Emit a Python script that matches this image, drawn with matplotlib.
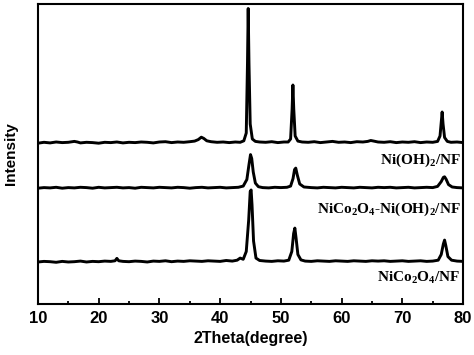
import matplotlib
matplotlib.use("Agg")
import matplotlib.pyplot as plt
from matplotlib.ticker import MultipleLocator

# Ni(OH)2/NF
tth_a = [10, 11, 12, 13, 14, 15, 16, 16.5, 17, 18, 19, 20, 21, 22, 23, 24, 25, 26, 27, 28,
         29, 30, 31, 32, 33, 34, 35, 35.8, 36.4, 36.9, 37.3, 37.8, 38.5, 39.5, 40.5, 41.5,
         42.5, 43.3, 43.9, 44.3, 44.5, 44.62, 44.75, 44.95, 45.3, 45.8, 46.5, 47.5, 48.5,
         49.5, 50.5, 51.2, 51.6, 51.85, 51.98, 52.12, 52.35, 52.8, 53.5, 54.5, 55.5, 56.5,
         57.5, 58.5, 59.5, 60.5, 61.5, 62.5, 63.5, 64.3, 64.8, 65.3, 66, 67, 68, 69, 70, 71,
         72, 73, 74, 75, 75.8, 76.2, 76.42, 76.55, 76.7, 76.95, 77.4, 78, 79, 80]
int_a = [53.6, 53.9, 53.7, 54.0, 53.8, 53.9, 54.2, 54.0, 53.7, 53.9, 53.8, 53.6, 53.9, 53.8,
         54.0, 53.7, 53.9, 53.8, 54.0, 53.9, 53.7, 54.0, 54.1, 53.8, 54.0, 53.9, 54.1, 54.3,
         54.8, 55.6, 55.2, 54.4, 54.1, 53.9, 54.0, 53.8, 54.0, 53.9, 54.4, 57, 80, 98.5, 80,
         60, 55, 54.2, 54.0, 53.9, 54.1, 53.8, 54.0, 54.0, 55, 65, 73, 65, 56, 54.3, 54.0,
         53.9, 54.1, 53.8, 54.0, 54.2, 53.9, 54.0, 53.8, 54.1, 54.0, 54.2, 54.5, 54.3, 54.0,
         53.9, 54.1, 53.8, 54.0, 53.9, 54.1, 53.8, 54.0, 53.9, 54.2, 56, 61, 64, 60, 55.5,
         54.2, 53.9, 54.0, 53.8]

# NiCo2O4-Ni(OH)2/NF
tth_b = [10, 11, 12, 13, 14, 15, 16, 17, 18, 19, 20, 21, 22, 23, 24, 25, 26, 27, 28, 29, 30,
         31, 32, 33, 34, 35, 36, 37, 38, 39, 40, 41, 42, 43, 43.8, 44.4, 44.75, 45.0, 45.2,
         45.45, 45.8, 46.3, 47, 48, 49, 50, 51, 51.6, 52.0, 52.25, 52.45, 52.7, 53.1, 53.8,
         55, 56, 57, 58, 59, 60, 61, 62, 63, 64, 65, 66, 67, 68, 69, 70, 71, 72, 73, 74, 75,
         75.8, 76.4, 76.75, 76.95, 77.2, 77.6, 78.2, 79, 80]
int_b = [38.6, 38.8, 38.7, 38.9, 38.6, 38.8, 38.7, 38.9, 38.8, 38.6, 38.9, 38.7, 38.8, 38.9,
         38.7, 38.8, 38.6, 38.9, 38.8, 38.7, 38.9, 38.8, 38.7, 38.9, 38.8, 38.6, 38.8, 38.9,
         38.7, 38.8, 38.9, 38.7, 38.8, 38.9,
         39.3, 41.5, 46.5, 49.8, 48.5, 44.0, 40.3, 39.1,
         38.8, 38.7, 38.9, 38.8, 38.9,
         39.3, 41.8, 44.8, 45.3, 43.0, 40.0, 39.0,
         38.8, 38.7, 38.9, 38.8, 38.7, 38.9, 38.8, 38.7, 38.9, 38.8, 38.7, 38.9, 38.8, 38.9,
         38.7, 38.8, 38.9, 38.7, 38.8, 38.9, 38.8,
         39.2, 40.8, 42.2, 42.4, 41.6, 39.8, 39.0,
         38.8, 38.7]

# NiCo2O4/NF
tth_c = [10, 11, 12, 13, 14, 15, 16, 17, 18, 19, 20, 21, 22, 22.7, 23.0, 23.3, 24, 25, 26,
         27, 28, 29, 30, 31, 32, 33, 34, 35, 36, 37, 38, 39, 40, 41, 42, 42.8, 43.3, 43.8,
         44.3, 44.7, 44.95, 45.1, 45.25, 45.5, 45.9, 46.5, 47.5, 48.5, 49.5, 50.5, 51.3,
         51.8, 52.1, 52.3, 52.5, 52.8, 53.3, 54, 55, 56, 57, 58, 59, 60, 61, 62, 63, 64, 65,
         66, 67, 68, 69, 70, 71, 72, 73, 74, 75, 75.9, 76.4, 76.75, 76.95, 77.15, 77.5, 78.1,
         79, 80]
int_c = [14.0, 14.2, 14.1, 13.9, 14.2, 14.0, 14.1, 14.3, 14.0, 14.2, 14.1, 14.3, 14.2,
         14.4, 15.2, 14.4,
         14.2, 14.1, 14.3, 14.2, 14.0, 14.3, 14.2, 14.4, 14.1, 14.3, 14.2, 14.4, 14.3, 14.2,
         14.4, 14.3, 14.2, 14.5, 14.3,
         14.6, 15.3, 14.9, 17.5, 28, 37.5, 38, 33, 21, 15.3, 14.5,
         14.3, 14.2, 14.4, 14.3,
         14.6, 17.5, 23.5, 25.3, 22, 16.5, 14.7,
         14.3, 14.2, 14.4, 14.3, 14.2, 14.4, 14.3, 14.2, 14.4, 14.3, 14.2, 14.4, 14.3, 14.4,
         14.2, 14.3, 14.4, 14.2, 14.3, 14.4, 14.2, 14.3,
         14.6, 16.5, 20.0, 21.3, 19.5, 15.8, 14.6,
         14.3, 14.2]

labels = ["Ni(OH)$_\\mathbf{2}$/NF",
          "NiCo$_\\mathbf{2}$O$_\\mathbf{4}$-Ni(OH)$_\\mathbf{2}$/NF",
          "NiCo$_\\mathbf{2}$O$_\\mathbf{4}$/NF"]
label_y = [48, 31.7, 8.7]

plt.rcParams['mathtext.fontset'] = 'custom'
plt.rcParams['mathtext.bf'] = 'Liberation Serif:bold'
plt.rcParams['mathtext.rm'] = 'Liberation Serif:bold'

fig = plt.figure(figsize=(4.74, 3.55), dpi=100)
ax = fig.add_axes([0.080, 0.1437, 0.897, 0.845])

for x, y in [(tth_a, int_a), (tth_b, int_b), (tth_c, int_c)]:
    ax.plot(x, y, color='black', linewidth=2.1)

for lab, ly in zip(labels, label_y):
    ax.text(79.6, ly, lab, ha='right', va='center', fontsize=11,
            family='Liberation Serif', fontweight='bold')

ax.set_xlim(10, 80)
ax.set_ylim(0, 100)
ax.xaxis.set_major_locator(MultipleLocator(10))
ax.xaxis.set_minor_locator(MultipleLocator(5))
ax.tick_params(axis='x', which='major', direction='in', length=4.5, width=1.3,
               labelsize=12, pad=5)
ax.tick_params(axis='x', which='minor', direction='in', length=2.5, width=1.3)
ax.set_yticks([])
for lbl in ax.get_xticklabels():
    lbl.set_fontweight('bold')
    lbl.set_family('Liberation Sans')
for s in ax.spines.values():
    s.set_linewidth(1.5)

ax.set_xlabel("2Theta(degree)", fontsize=11.5, fontweight='bold', family='Liberation Sans',
              labelpad=4)
ax.set_ylabel("Intensity", fontsize=11, fontweight='bold', family='Liberation Sans',
              labelpad=14)

fig.savefig("out.png", dpi=100)
